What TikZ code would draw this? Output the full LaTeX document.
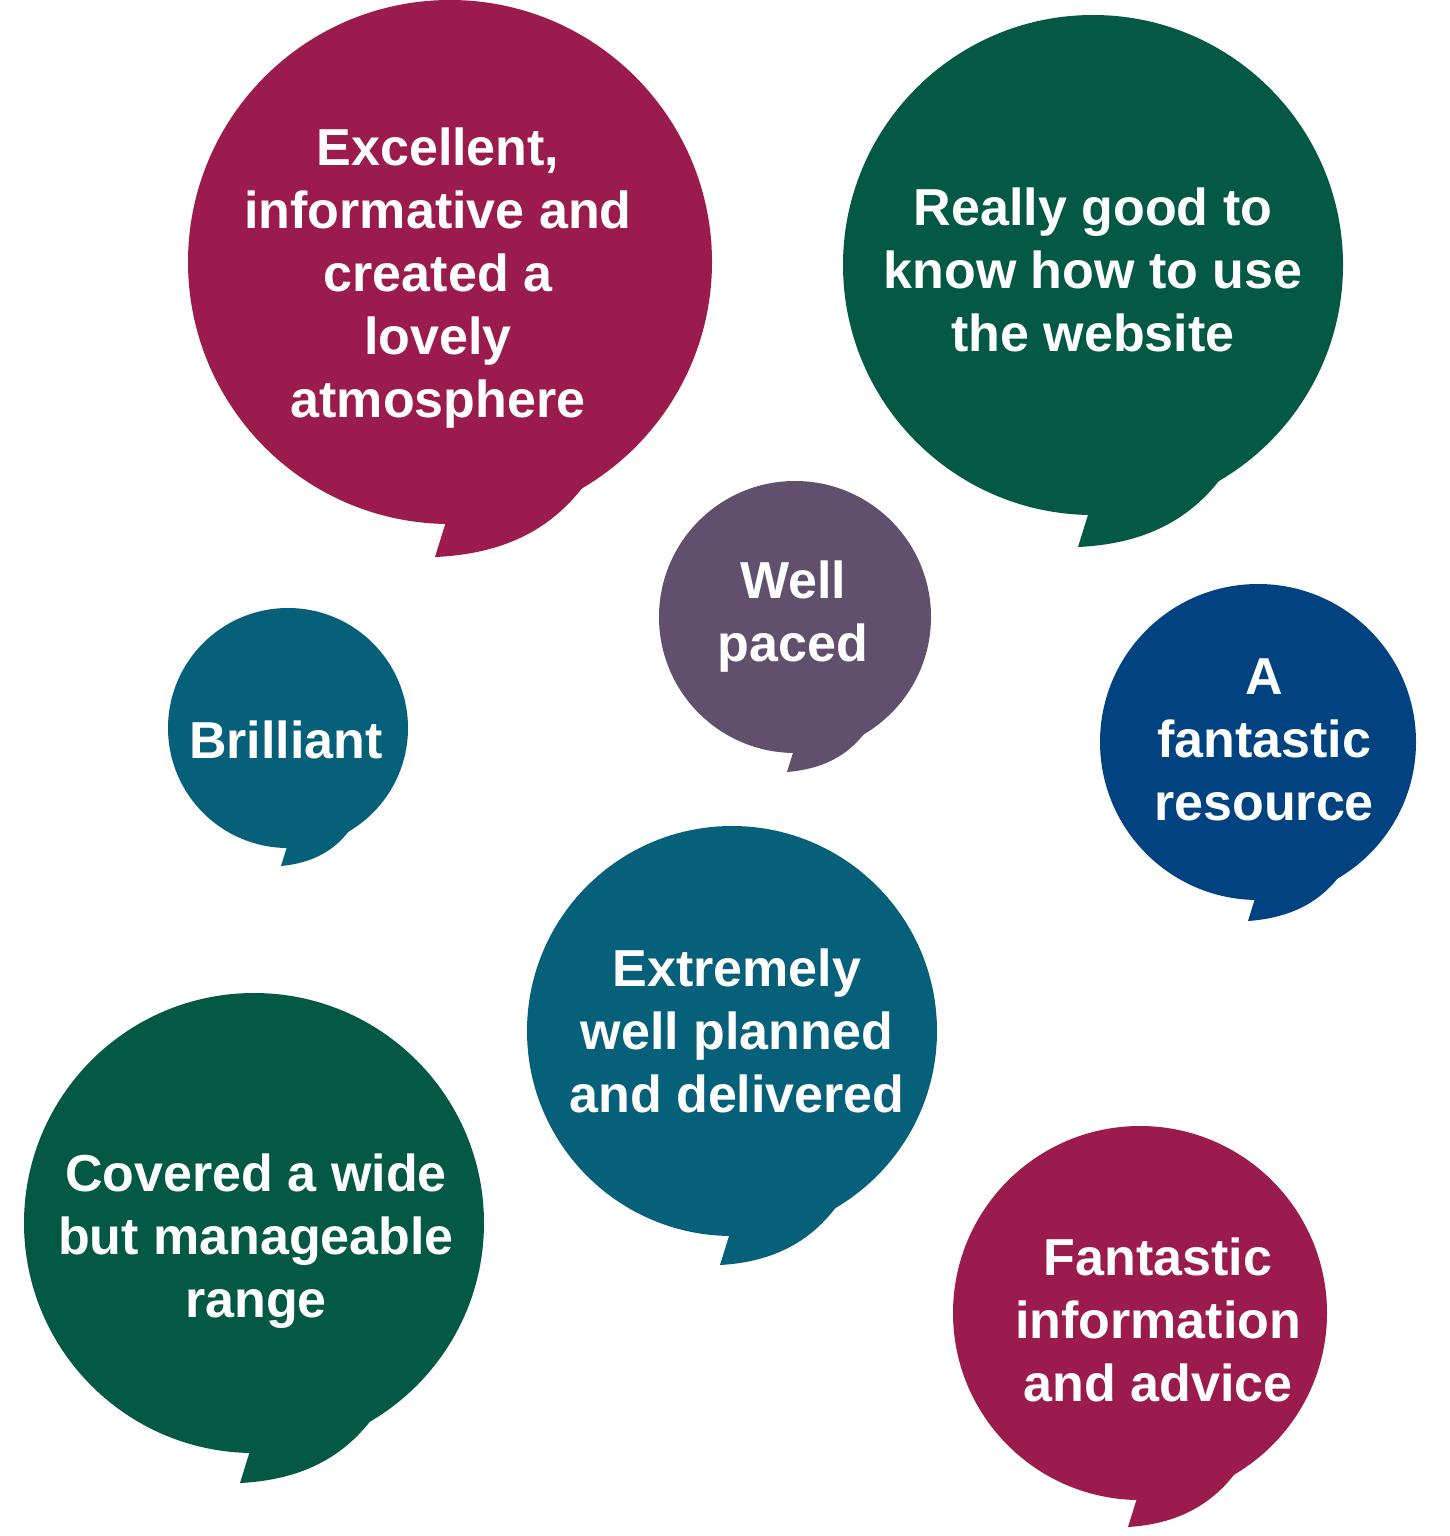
\documentclass[tikz,border=0pt]{standalone}
\usepackage{fontspec}
\setmainfont{Liberation Sans}
\definecolor{cmaroon}{HTML}{9B1B4C}
\definecolor{cgreen}{HTML}{035944}
\definecolor{cpurple}{HTML}{60506E}
\definecolor{cteal}{HTML}{07607A}
\definecolor{cblue}{HTML}{004380}
\tikzset{btext/.style={text=white,font=\fontsize{52}{63}\selectfont\bfseries,align=center}}
% #1 name, #2 color, #3 cx, #4 cy, #5 r, #6 tipx, #7 tipy
\newcommand\mybub[7]{%
  \fill[#2] (#3,#4) circle (#5pt);
  \fill[#2] (#6+14,#7-45) -- (#6,#7) .. controls (#6+0.35*#5,#7-4) and (#3+0.45*#5,#4+0.95*#5) .. (#3+0.55*#5,#4+0.8*#5) -- (#3,#4) -- cycle;
  \coordinate (#1) at (#3,#4);
}
\begin{document}
\begin{tikzpicture}[x=1pt,y=-1pt]
\useasboundingbox (0,0) rectangle (1450,1536);
\fill[white] (0,0) rectangle (1450,1536);
\mybub{b1}{cmaroon}{450}{262}{262}{435}{557}
\mybub{b2}{cgreen}{1093}{265}{250}{1078}{547}
\mybub{b3}{cpurple}{795}{617}{136}{787}{772}
\mybub{b4}{cteal}{288}{728}{120}{281}{866}
\mybub{b5}{cblue}{1258}{742}{158}{1248}{921}
\mybub{b6}{cteal}{732}{1031}{205}{720}{1265}
\mybub{b7}{cgreen}{254}{1223}{230}{240}{1483}
\mybub{b8}{cmaroon}{1140}{1313}{187}{1128}{1527}
\node[btext] (t1) at (438,278) {Excellent,\\informative and\\created a\\lovely\\atmosphere};
\node[btext] (t2) at (1093,270) {Really good to\\know how to use\\the website};
\node[btext] (t3) at (793,617) {Well\\paced};
\node[btext] (t4) at (286,740) {Brilliant};
\node[btext] (t5) at (1264,740) {A\\fantastic\\resource};
\node[btext] (t6) at (737,1031) {Extremely\\well planned\\and delivered};
\node[btext] (t7) at (256,1241) {Covered a wide\\but manageable\\range};
\node[btext] (t8) at (1158,1320) {Fantastic\\information\\and advice};
\end{tikzpicture}
\end{document}
